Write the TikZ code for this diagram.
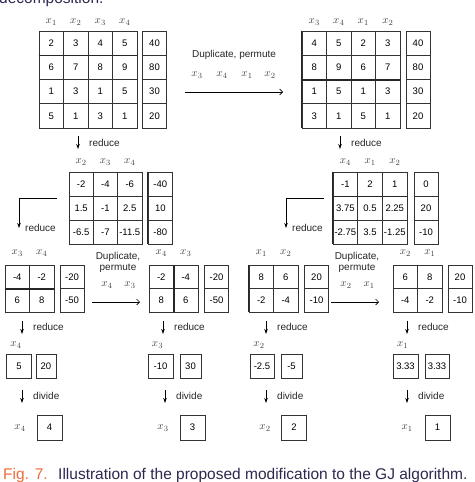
\documentclass[tikz,border=0pt]{standalone}
\usepackage{fontspec}
\setmainfont{Liberation Sans}
\usetikzlibrary{arrows.meta}
\definecolor{figred}{HTML}{EE6A3A}
\definecolor{capblue}{HTML}{2F2750}

\begin{document}
\begin{tikzpicture}
  [x=1pt, y=-1pt,
   cell/.style  = {draw=black!80, line width=0.7pt, minimum width=24.5pt,
                   minimum height=24.25pt, inner sep=0pt,
                   font=\fontsize{9.5}{10}\selectfont},
   var/.style   = {font=\fontsize{11}{12}\selectfont, text=black!75, inner sep=0pt},
   lbl/.style   = {font=\fontsize{10}{11}\selectfont, text=black!85, inner sep=0pt},
   pivot/.style = {line width=1.5pt, black!85},
   down/.style  = {line width=0.7pt, -{Stealth[length=5pt,width=3.5pt]}},
   perm/.style  = {line width=0.6pt, -{Straight Barb[length=3pt,width=6pt]}}]

\useasboundingbox (0,0) rectangle (474,482);

% Heading cut off by the page
\node[anchor=base west, font=\fontsize{15.5}{16}\selectfont, text=capblue, inner sep=0pt]
  (head) at (-1,3.5) {decomposition.};

% First matrix
\foreach \row [count=\r] in {{2,3,4,5},{6,7,8,9},{1,3,1,5},{5,1,3,1}}
  \foreach \v [count=\c] in \row
    \node[cell] (a-\r-\c) at ({39+(\c-0.5)*24.5},{31+(\r-0.5)*24.25}) {\v};
\foreach \v [count=\r] in {40,80,30,20}
  \node[cell, minimum width=23.5pt] (ab-\r) at (154.5,{31+(\r-0.5)*24.25}) {\v};
\foreach \s [count=\c] in {1,2,3,4}
  \node[var] (ax-\c) at ({39+(\c-0.5)*24.5},22) {$x_\s$};
\draw[pivot] (a-1-1.south west) -- (a-1-4.south east);

% Duplicate, permute (top)
\node[lbl] (dup1) at (234,55) {Duplicate, permute};
\foreach \s/\x [count=\i] in {3/197,4/222,1/247,2/270}
  \node[var] (px-\i) at (\x,75) {$x_\s$};
\coordinate (p1a) at (185,92);
\coordinate (p1b) at (283,92);
\draw[perm] (p1a) -- (p1b);

% Second matrix
\foreach \row [count=\r] in {{4,5,2,3},{8,9,6,7},{1,5,1,3},{3,1,5,1}}
  \foreach \v [count=\c] in \row
    \node[cell] (b-\r-\c) at ({302+(\c-0.5)*24.5},{31+(\r-0.5)*24.25}) {\v};
\foreach \v [count=\r] in {40,80,30,20}
  \node[cell, minimum width=24pt] (bb-\r) at (418,{31+(\r-0.5)*24.25}) {\v};
\foreach \s [count=\c] in {3,4,1,2}
  \node[var] (bx-\c) at ({302+(\c-0.5)*24.5},22) {$x_\s$};
\draw[pivot] (b-2-1.south west) -- (b-2-4.south east);
\draw[pivot] (b-1-1.north west) -- (b-4-1.south west);

% Reduce (first level)
\foreach \x/\n in {78/1,340/2} {
  \coordinate (ra\n) at (\x,136);
  \coordinate (rb\n) at (\x,149);
  \draw[down] (ra\n) -- (rb\n);
  \node[lbl, anchor=west] (rl\n) at (\x+11,143) {reduce};
}

% Third matrix
\foreach \row [count=\r] in {{-2,-4,-6},{1.5,-1,2.5},{-6.5,-7,-11.5}}
  \foreach \v [count=\c] in \row
    \node[cell, minimum width=24.3pt, minimum height=24pt] (c-\r-\c)
      at ({69+(\c-0.5)*24.3},{172+(\r-0.5)*24}) {\v};
\foreach \v [count=\r] in {-40,10,-80}
  \node[cell, minimum height=24pt] (cb-\r) at (160.3,{172+(\r-0.5)*24}) {\v};
\foreach \s [count=\c] in {2,3,4}
  \node[var] (cx-\c) at ({69+(\c-0.5)*24.3},162) {$x_\s$};
\draw[pivot] (cb-1.north west) -- (cb-3.south west);

% Fourth matrix
\foreach \row [count=\r] in {{-1,2,1},{3.75,0.5,2.25},{-2.75,3.5,-1.25}}
  \foreach \v [count=\c] in \row
    \node[cell, minimum width=24.7pt, minimum height=24pt] (d-\r-\c)
      at ({333+(\c-0.5)*24.7},{172+(\r-0.5)*24}) {\v};
\foreach \v [count=\r] in {0,20,-10}
  \node[cell, minimum width=24pt, minimum height=24pt] (db-\r) at (426,{172+(\r-0.5)*24}) {\v};
\foreach \s [count=\c] in {4,1,2}
  \node[var] (dx-\c) at ({333+(\c-0.5)*24.7},162) {$x_\s$};
\draw[pivot] (d-1-1.north west) -- (d-3-1.south west);
\draw[pivot] (d-1-1.south west) -- (d-1-3.south east);

% Reduce (bent arrows)
\coordinate (ka1) at (57,198);  \coordinate (kb1) at (19,198);  \coordinate (kc1) at (19,228);
\coordinate (ka2) at (324,198); \coordinate (kb2) at (286,198); \coordinate (kc2) at (286,228);
\draw[down] (ka1) -- (kb1) -- (kc1);
\draw[down] (ka2) -- (kb2) -- (kc2);
\node[lbl, anchor=west] (kl1) at (25,228) {reduce};
\node[lbl, anchor=west] (kl2) at (292,228) {reduce};

% Two by two matrices
\foreach \blk/\left/\rhs/\one/\two/\va/\vb/\vc/\vd/\ra/\rb in
  {e/5/72/3/4/-4/-2/6/8/-20/-50,
   f/149/216.5/4/3/-2/-4/8/6/-20/-50,
   g/249/316.5/1/2/8/6/-2/-4/20/-10,
   h/393/460/2/1/6/8/-4/-2/20/-10} {
  \node[cell, minimum height=23.5pt] (\blk-1-1) at (\left+12.25,276.75) {\va};
  \node[cell, minimum height=23.5pt] (\blk-1-2) at (\left+36.75,276.75) {\vb};
  \node[cell, minimum height=23.5pt] (\blk-2-1) at (\left+12.25,300.25) {\vc};
  \node[cell, minimum height=23.5pt] (\blk-2-2) at (\left+36.75,300.25) {\vd};
  \node[cell, minimum width=24pt, minimum height=23.5pt] (\blk b-1) at (\rhs,276.75) {\ra};
  \node[cell, minimum width=24pt, minimum height=23.5pt] (\blk b-2) at (\rhs,300.25) {\rb};
  \node[var] (\blk x-1) at (\left+12.25,253) {$x_\one$};
  \node[var] (\blk x-2) at (\left+36.75,253) {$x_\two$};
}
\draw[pivot] (e-1-1.south west) -- (e-1-2.south east);
\draw[pivot] (f-1-1.north east) -- (f-2-1.south east);
\draw[pivot] (g-1-1.north west) -- (g-2-1.south west);

% Duplicate, permute (middle)
\foreach \c/\s/\t [count=\i] in {118/4/3,357/2/1} {
  \node[lbl, align=center] (dm\i) at (\c,262.5) {Duplicate,\\permute};
  \node[var] (mx\i a) at (\c-11,285) {$x_\s$};
  \node[var] (mx\i b) at (\c+12,285) {$x_\t$};
  \coordinate (ma\i) at (\c-26,302);
  \coordinate (mb\i) at (\c+22,302);
  \draw[perm] (ma\i) -- (mb\i);
}

% Reduce (second level)
\foreach \x/\n in {22/1,163/2,266/3,407/4} {
  \coordinate (sa\n) at (\x,321);
  \coordinate (sb\n) at (\x,334);
  \draw[down] (sa\n) -- (sb\n);
  \node[lbl, anchor=west] (sl\n) at (\x+11,327) {reduce};
}

% Single rows
\foreach \n/\s/\xa/\wa/\va/\xb/\wb/\vb in
  {1/4/19/25/5/46/20/20,
   2/3/160.5/25/-10/190.5/21/30,
   3/2/262/24/-2.5/291.5/21/-5,
   4/1/405.5/25/3.33/437/24/3.33} {
  \node[cell, minimum width=\wa pt, minimum height=23.5pt] (u\n) at (\xa,366.5) {\va};
  \node[cell, minimum width=\wb pt, minimum height=23.5pt] (ub\n) at (\xb,366.5) {\vb};
  \node[var] (ux\n) at (\xa-3,345) {$x_\s$};
}

% Divide
\foreach \x/\n in {22/1,165/2,266/3,407/4} {
  \coordinate (va\n) at (\x,390);
  \coordinate (vb\n) at (\x,403);
  \draw[down] (va\n) -- (vb\n);
  \node[lbl, anchor=west] (vl\n) at (\x+11,396) {divide};
}

% Results
\foreach \n/\s/\xl/\xc/\v in {1/4/20/49.5/4, 2/3/163/192.5/3, 3/2/265/294/2, 4/1/407/437.5/1} {
  \node[cell, minimum width=25pt, minimum height=25pt] (w\n) at (\xc,427.5) {\v};
  \node[var] (wx\n) at (\xl,428) {$x_\s$};
}

% Caption
\node[anchor=base west, font=\fontsize{15.5}{16}\selectfont, text=figred, inner sep=0pt]
  (fig) at (3,479) {Fig. 7.};
\node[anchor=base west, font=\fontsize{15.5}{16}\selectfont, text=capblue, inner sep=0pt]
  (cap) at (58,479) {Illustration of the proposed modification to the GJ algorithm.};

\end{tikzpicture}
\end{document}
